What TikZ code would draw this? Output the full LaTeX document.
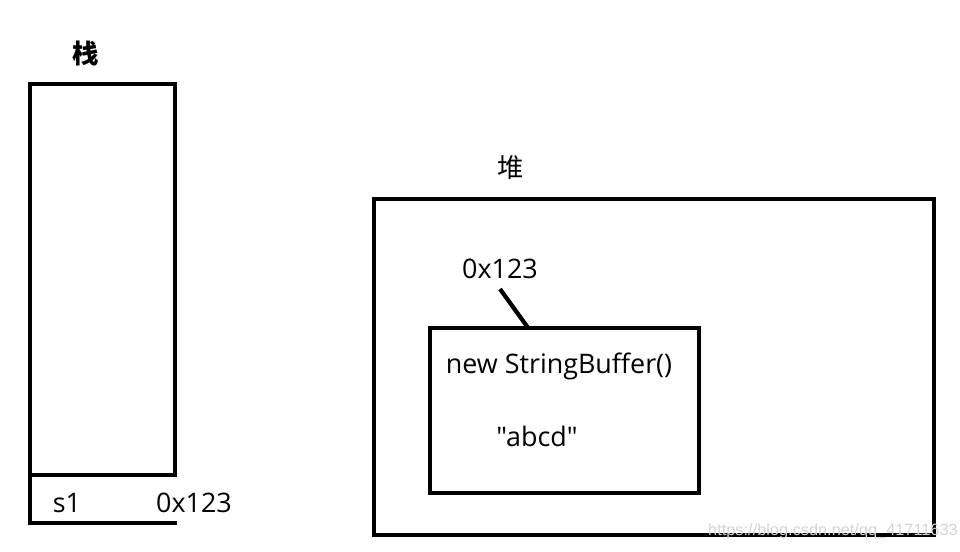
\documentclass[tikz,border=0pt]{standalone}
\usepackage{fontspec}
\newfontfamily\latin{Open Sans}
\newfontfamily\cjk{Noto Sans CJK SC}
\newfontfamily\markfont{Liberation Sans}
\usetikzlibrary{calc, positioning}

\begin{document}
\begin{tikzpicture}[x=0.02cm, y=-0.02cm,
    box/.style={draw, line width=2.4pt, inner sep=0pt, outer sep=0pt},
    lbl/.style={font=\latin\fontsize{15.3}{18}\selectfont, inner sep=1pt}]
    \useasboundingbox (0,0) rectangle (960,551);
    % stack
    \node[lbl, font=\cjk\bfseries\fontsize{15}{18}\selectfont] (stacktitle) at (86,53) {栈};
    \node[box, minimum width=2.9cm, minimum height=7.82cm] (stack) at (102.5,279.5) {};
    \draw[line width=2.4pt] (stack.south west) -- ++(0,48) -- ++(147,0);
    \node[lbl] (var) at (67,503) {s1};
    \node[lbl] (addr) at (194,503) {0x123};

    % heap
    \node[lbl, font=\cjk\fontsize{15}{18}\selectfont] (heaptitle) at (511,168) {堆};
    \node[box, minimum width=11.2cm, minimum height=6.72cm] (heap) at (654,367) {};
    \node[box, minimum width=5.38cm, minimum height=3.3cm] (obj) at (564.5,410.5) {};
    \node[lbl] (ctor) at (559,366) {new StringBuffer()};
    \node[lbl] (val) at (537,436) {"abcd"};
    \node[lbl] (ref) at (500,269) {0x123};
    \draw[line width=2.4pt] ($(ref.south)+(0,8)$) -- ($(obj.north west)!0.365!(obj.north east)$);

    \node[font=\markfont\fontsize{9.3}{11}\selectfont, text=black!17, inner sep=0pt] (mark) at (833,531)
        {https://blog.csdn.net/qq\_41711633};
\end{tikzpicture}
\end{document}
